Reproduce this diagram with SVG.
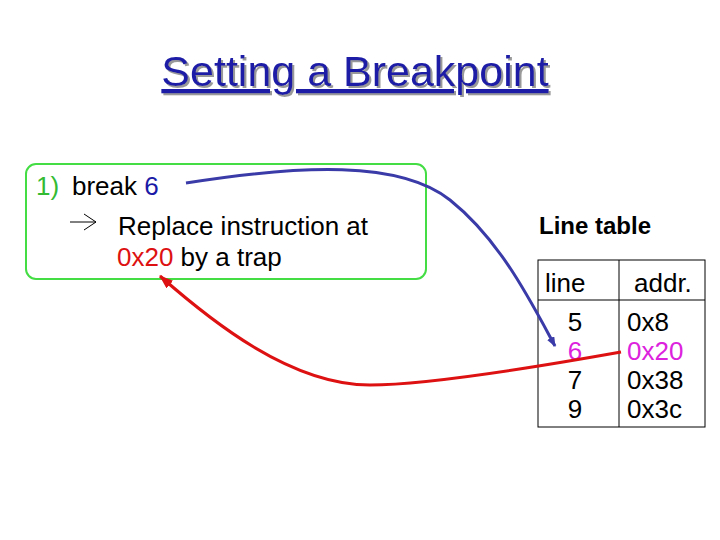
<svg xmlns="http://www.w3.org/2000/svg" width="720" height="540" viewBox="0 0 720 540">
<style>
text{font-family:"Liberation Sans",Arial,sans-serif;font-size:26px;fill:#000}
.c{text-anchor:middle}
</style>
<defs>
<marker id="mb" markerWidth="10" markerHeight="8" refX="9" refY="4" orient="auto" markerUnits="userSpaceOnUse"><path d="M0,0 L10,4 L0,8 Z" fill="#3a3aa8"/></marker>
<marker id="mr" markerWidth="14" markerHeight="10" refX="13" refY="5" orient="auto" markerUnits="userSpaceOnUse"><path d="M0,0 L14,5 L0,10 Z" fill="#dd1111"/></marker>
<filter id="sh" x="-5%" y="-20%" width="110%" height="140%"><feDropShadow dx="2" dy="2" stdDeviation="0.5" flood-color="#999"/></filter>
</defs>
<rect width="720" height="540" fill="#fff"/>
<g id="title">
<text x="355" y="86" class="c" filter="url(#sh)" style="font-size:43px;fill:#1a1aa6;text-decoration:underline">Setting a Breakpoint</text>
</g>
<g id="step">
<rect x="26" y="164" width="400" height="115" rx="10" fill="none" stroke="#44dd44" stroke-width="2"/>
<text x="36" y="195" style="fill:#33bb33">1)</text>
<text x="72" y="195">break <tspan style="fill:#1a1aa6">6</tspan></text>
<path d="M70,222 H96 M84,214 L96,222 L84,230" fill="none" stroke="#000" stroke-width="1"/>
<text x="118" y="235">Replace instruction at</text>
<text x="117" y="266"><tspan style="fill:#dd1111">0x20</tspan>  by a trap</text>
</g>
<g id="table">
<text x="539" y="234" style="font-weight:bold;font-size:24px">Line table</text>
<rect x="538" y="260" width="167" height="167" fill="none" stroke="#000" stroke-width="1"/>
<line x1="619" y1="260" x2="619" y2="427" stroke="#000"/>
<line x1="538" y1="300" x2="705" y2="300" stroke="#000"/>
<text x="545" y="292">line</text>
<text x="634" y="292">addr.</text>
<text x="575" y="331" class="c">5</text>
<text x="575" y="360" class="c" style="fill:#dd22dd">6</text>
<text x="575" y="389" class="c">7</text>
<text x="575" y="418" class="c">9</text>
<text x="627" y="331">0x8</text>
<text x="627" y="360" style="fill:#dd22dd">0x20</text>
<text x="627" y="389">0x38</text>
<text x="627" y="418">0x3c</text>
</g>
<g id="connectors" fill="none">
<path d="M186,183 C300,165 400,160 450,200 C500,240 530,300 555,346" stroke="#3a3aa8" stroke-width="3" marker-end="url(#mb)"/>
<path d="M621,352 C520,370 420,385 370,385 C290,385 210,320 160,276" stroke="#dd1111" stroke-width="3" marker-end="url(#mr)"/>
</g>
</svg>
